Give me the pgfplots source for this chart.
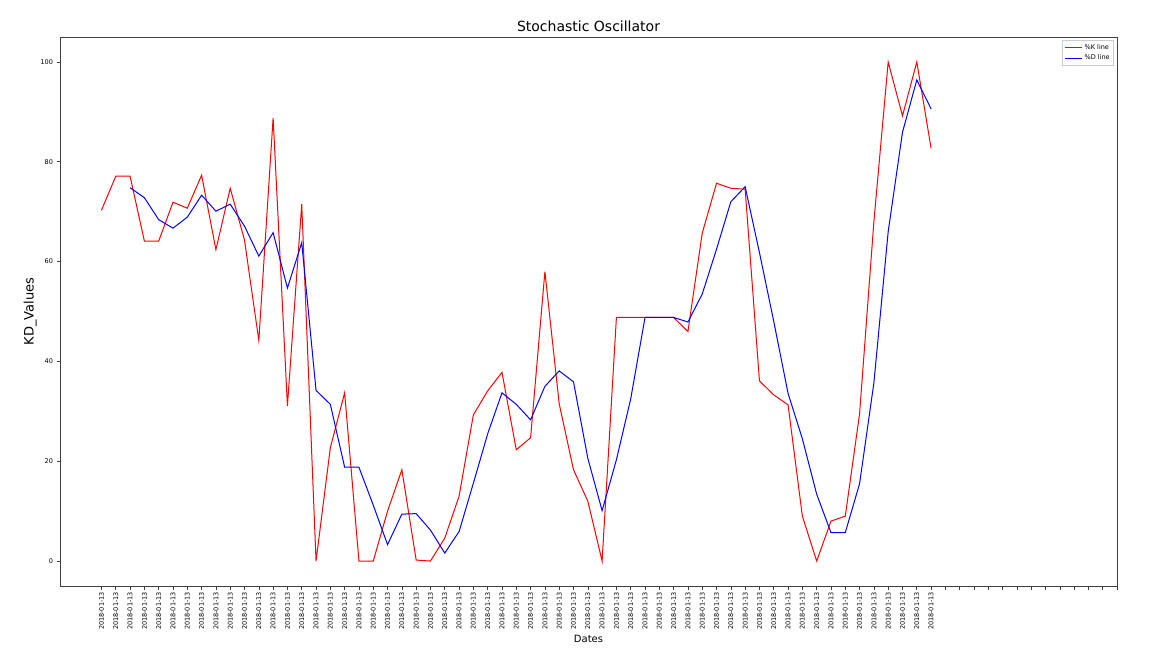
\documentclass[border=0pt]{standalone}
\usepackage{fontspec}
\setmainfont{DejaVu Sans}
\usepackage{pgfplots}
\pgfplotsset{compat=1.18}
\begin{document}
\begin{tikzpicture}[x=1pt,y=1pt]
\useasboundingbox (0,0) rectangle (1158,657);
\begin{axis}[
  at={(60pt,71pt)}, anchor=south west,
  width=1057pt, height=549pt, scale only axis,
  xmin=-2.9, xmax=71, ymin=-5, ymax=105,
  axis line style={draw=black!75, line width=0.8pt},
  xtick={0,...,71},
  xticklabel={\ifnum\ticknum<59 2018-01-13\fi},
  xticklabel style={rotate=90, anchor=east, font=\fontsize{6.5}{7}\selectfont, inner sep=1pt, xshift=-1.5pt},
  ytick={0,20,40,60,80,100},
  yticklabel style={font=\fontsize{6.5}{7}\selectfont},
  /pgf/number format/assume math mode=true,
  tick align=outside, tick pos=left,
  major tick length=3.5pt,
  tick style={draw=black!75, line width=0.6pt},
  title={Stochastic Oscillator},
  title style={font=\fontsize{14}{16}\selectfont, yshift=-4pt},
  xlabel={Dates},
  xlabel style={font=\fontsize{10}{12}\selectfont, yshift=-1pt},
  ylabel={KD\_Values},
  ylabel style={font=\fontsize{13}{15}\selectfont, yshift=-3pt},
  legend style={at={(0.997,0.994)}, anchor=north east, font=\fontsize{6.5}{7.5}\selectfont,
    draw=black!20, fill=white, inner sep=2pt},
  legend cell align=left,
]
\addlegendimage{red, line width=1.2pt}
\addlegendentry{\%K line}
\addlegendimage{blue, line width=1.2pt}
\addlegendentry{\%D line}
\addplot[color=red, line width=1pt, forget plot] coordinates {
(0,70.3) (1,77.1) (2,77.1) (3,64.1) (4,64.1) (5,71.9) (6,70.7) (7,77.3) (8,62.4) (9,74.7)
(10,64.3) (11,44.2) (12,88.8) (13,31.1) (14,71.5) (15,0) (16,22.7) (17,33.7) (18,0) (19,0)
(20,10) (21,18.3) (22,0.2) (23,0) (24,4.6) (25,13) (26,29.3) (27,34.1) (28,37.8) (29,22.3)
(30,24.7) (31,58) (32,31.5) (33,18.3) (34,12) (35,0) (36,48.8) (37,48.8) (38,48.8) (39,48.8)
(40,48.8) (41,46) (42,65.7) (43,75.7) (44,74.7) (45,74.5) (46,36.1) (47,33.3) (48,31.3) (49,9)
(50,0) (51,8) (52,9) (53,29.5) (54,68) (55,100) (56,89.2) (57,100) (58,82.7)
};
\addplot[color=blue, line width=1pt, forget plot] coordinates {
(2,74.8) (3,72.8) (4,68.4) (5,66.7) (6,68.9) (7,73.3) (8,70.1) (9,71.5)
(10,67.1) (11,61.1) (12,65.8) (13,54.7) (14,63.8) (15,34.2) (16,31.4) (17,18.8) (18,18.8) (19,11.2)
(20,3.3) (21,9.4) (22,9.5) (23,6.2) (24,1.6) (25,5.9) (26,15.6) (27,25.5) (28,33.7) (29,31.4)
(30,28.3) (31,35) (32,38.1) (33,35.9) (34,20.6) (35,10.1) (36,20.3) (37,32.5) (38,48.8) (39,48.8)
(40,48.8) (41,47.9) (42,53.5) (43,62.5) (44,72) (45,75) (46,61.8) (47,48) (48,33.6) (49,24.5)
(50,13.4) (51,5.7) (52,5.7) (53,15.5) (54,35.7) (55,66) (56,85.9) (57,96.4) (58,90.6)
};
\end{axis}
\end{tikzpicture}
\end{document}
